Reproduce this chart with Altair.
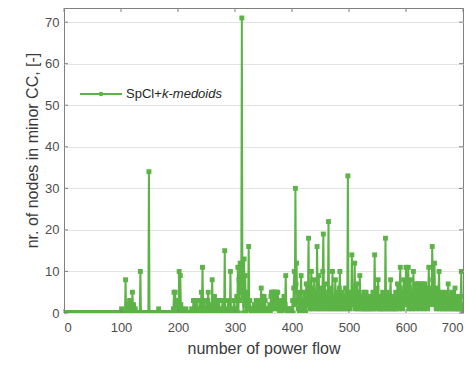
import altair as alt
import pandas as pd

GREEN = "#5cb346"
FONT = "Liberation Sans"

x_ticks = [0, 100, 200, 300, 400, 500, 600, 700]
y_ticks = [0, 10, 20, 30, 40, 50, 60, 70]

# nr. of nodes in minor CC for power flows 1..700
nodes = (
    [0, 0, 0, 0, 0, 0, 0, 0, 0, 0, 0, 0, 0, 0, 0, 0, 0, 0, 0, 0]
    + [0, 0, 0, 0, 0, 0, 0, 0, 0, 0, 0, 0, 0, 0, 0, 0, 0, 0, 0, 0]
    + [0, 0, 0, 0, 0, 0, 0, 0, 0, 0, 0, 0, 0, 0, 0, 0, 0, 0, 0, 0]
    + [0, 0, 0, 0, 0, 0, 0, 0, 0, 0, 0, 0, 0, 0, 0, 0, 0, 0, 0, 0]
    + [0, 0, 0, 0, 0, 0, 0, 0, 0, 0, 0, 0, 0, 0, 0, 0, 0, 0, 0, 0]
    + [1, 0, 0, 0, 0, 0, 0, 8, 0, 0, 0, 2, 0, 0, 3, 0, 3, 0, 0, 5]
    + [0, 2, 0, 0, 1, 0, 0, 0, 0, 0, 0, 0, 0, 10, 0, 0, 0, 0, 0, 0]
    + [0, 0, 0, 0, 0, 0, 0, 0, 34, 0, 0, 0, 0, 0, 0, 0, 0, 0, 0, 0]
    + [0, 0, 0, 0, 0, 1, 0, 0, 0, 0, 0, 0, 0, 0, 0, 0, 0, 0, 0, 0]
    + [0, 0, 0, 0, 0, 0, 0, 0, 0, 0, 0, 1, 5, 0, 5, 2, 0, 3, 0, 1]
    + [0, 10, 0, 9, 2, 0, 1, 0, 0, 0, 0, 0, 0, 1, 0, 0, 0, 0, 0, 0]
    + [0, 0, 0, 1, 0, 0, 3, 0, 3, 0, 3, 0, 3, 0, 1, 0, 0, 3, 0, 1]
    + [5, 0, 11, 2, 0, 1, 0, 1, 0, 3, 0, 3, 5, 1, 0, 2, 0, 0, 0, 8]
    + [0, 3, 0, 4, 0, 2, 0, 1, 0, 3, 0, 3, 0, 1, 0, 1, 0, 3, 0, 0]
    + [0, 15, 0, 1, 0, 0, 0, 3, 0, 0, 0, 10, 0, 1, 0, 0, 0, 3, 0, 1]
    + [0, 0, 4, 0, 11, 0, 8, 3, 12, 6, 5, 71, 7, 4, 0, 13, 2, 9, 0, 2]
    + [3, 5, 2, 16, 1, 3, 1, 0, 1, 0, 0, 1, 0, 2, 0, 1, 3, 0, 2, 0]
    + [1, 3, 0, 2, 1, 6, 0, 4, 1, 2, 4, 1, 3, 0, 1, 0, 0, 1, 0, 0]
    + [2, 0, 4, 5, 1, 5, 3, 5, 2, 5, 1, 5, 4, 2, 5, 1, 3, 0, 1, 0]
    + [2, 0, 1, 3, 2, 4, 1, 2, 9, 1, 0, 1, 0, 0, 0, 0, 1, 0, 1, 0]
    + [3, 0, 6, 10, 2, 30, 7, 12, 3, 5, 1, 3, 0, 4, 2, 9, 1, 3, 0, 2]
    + [5, 1, 3, 0, 7, 2, 4, 5, 18, 3, 1, 2, 6, 10, 1, 5, 3, 2, 8, 4]
    + [1, 3, 2, 16, 4, 1, 9, 2, 5, 3, 1, 6, 2, 10, 19, 4, 1, 7, 3, 2]
    + [5, 1, 3, 22, 2, 4, 1, 6, 3, 2, 10, 1, 4, 2, 3, 8, 1, 3, 5, 2]
    + [4, 1, 6, 10, 2, 3, 1, 5, 2, 4, 3, 1, 2, 6, 3, 1, 3, 33, 4, 2]
    + [5, 1, 3, 2, 14, 4, 2, 6, 3, 12, 1, 4, 2, 7, 3, 1, 5, 2, 9, 3]
    + [1, 4, 2, 3, 1, 5, 2, 1, 3, 5, 2, 1, 4, 2, 1, 3, 2, 4, 1, 3]
    + [2, 5, 1, 3, 14, 2, 4, 1, 6, 2, 8, 3, 1, 4, 2, 1, 3, 2, 5, 1]
    + [4, 2, 1, 18, 3, 2, 5, 1, 3, 2, 1, 4, 8, 2, 3, 1, 2, 4, 1, 3]
    + [2, 5, 1, 3, 7, 2, 4, 1, 6, 11, 3, 2, 5, 1, 4, 8, 2, 6, 3, 11]
    + [5, 2, 4, 11, 1, 6, 3, 8, 2, 5, 1, 3, 10, 2, 4, 7, 1, 5, 3, 7]
    + [2, 4, 7, 1, 5, 7, 3, 2, 6, 7, 1, 4, 7, 3, 5, 2, 6, 1, 4, 11]
    + [3, 5, 2, 6, 4, 16, 8, 3, 5, 12, 2, 4, 1, 6, 3, 2, 5, 10, 1, 3]
    + [4, 2, 5, 1, 3, 2, 4, 1, 3, 2, 5, 1, 3, 7, 2, 4, 1, 3, 2, 5]
    + [1, 3, 2, 4, 1, 6, 2, 3, 1, 4, 2, 1, 3, 2, 1, 4, 10, 1, 2, 0]
)
flows = list(range(1, len(nodes) + 1))

df = pd.DataFrame({"x": flows, "y": nodes})
xt = pd.DataFrame({"x": x_ticks})
yt = pd.DataFrame({"y": y_ticks})

W, H = 399, 305
xscale = alt.Scale(domain=[0, 700], nice=False, zero=False)
yscale = alt.Scale(domain=[0, 73.4], nice=False)

xaxis = alt.Axis(values=x_ticks, title="number of power flow", grid=False,
                 domain=False, ticks=False, labelPadding=8, titlePadding=6,
                 format="d", labelFlush=True)
yaxis = alt.Axis(values=y_ticks, title="nr. of nodes in minor CC, [-]",
                 grid=True, gridColor="#e3e3e3", gridWidth=1, domain=False,
                 ticks=False, labelPadding=5, titlePadding=4, format="d",
                 titleY=142)

base = alt.Chart(df)
line = base.mark_line(color=GREEN, strokeWidth=2, clip=True).encode(
    x=alt.X("x:Q", scale=xscale, axis=xaxis),
    y=alt.Y("y:Q", scale=yscale, axis=yaxis),
)
pts = base.mark_square(color=GREEN, size=24, opacity=1, clip=True).encode(
    x=alt.X("x:Q", scale=xscale),
    y=alt.Y("y:Q", scale=yscale),
)

tick_color = "#808080"
xt_bot = alt.Chart(xt).mark_rule(color=tick_color, strokeWidth=1).encode(
    x=alt.X("x:Q", scale=xscale), y=alt.value(H), y2=alt.value(H - 4))
xt_top = alt.Chart(xt).mark_rule(color=tick_color, strokeWidth=1).encode(
    x=alt.X("x:Q", scale=xscale), y=alt.value(0), y2=alt.value(4))
yt_left = alt.Chart(yt).mark_rule(color=tick_color, strokeWidth=1).encode(
    y=alt.Y("y:Q", scale=yscale), x=alt.value(0), x2=alt.value(4))
yt_right = alt.Chart(yt).mark_rule(color=tick_color, strokeWidth=1).encode(
    y=alt.Y("y:Q", scale=yscale), x=alt.value(W), x2=alt.value(W - 4))

legend_df = pd.DataFrame({"label": ["SpCl+"], "label2": ["k-medoids"]})
LY = 86
leg_line = alt.Chart(legend_df).mark_rule(color=GREEN, strokeWidth=2).encode(
    x=alt.value(16), x2=alt.value(58), y=alt.value(LY))
leg_pt = alt.Chart(legend_df).mark_circle(color=GREEN, size=22, opacity=1).encode(
    x=alt.value(37), y=alt.value(LY))
leg_t1 = alt.Chart(legend_df).mark_text(
    align="left", baseline="middle", font=FONT, fontSize=13, color="#262626"
).encode(x=alt.value(62), y=alt.value(LY), text="label:N")
leg_t2 = alt.Chart(legend_df).mark_text(
    align="left", baseline="middle", font=FONT, fontSize=13, fontStyle="italic",
    color="#262626"
).encode(x=alt.value(98), y=alt.value(LY), text="label2:N")

chart = alt.layer(
    line, pts, xt_bot, xt_top, yt_left, yt_right,
    leg_line, leg_pt, leg_t1, leg_t2
).properties(
    width=W, height=H,
    autosize=alt.AutoSizeParams(type="none"),
    padding={"left": 56, "top": 0, "right": 2, "bottom": 50},
).configure_view(
    stroke="#808080", strokeWidth=1
).configure_axis(
    labelFont=FONT, labelFontSize=13, labelColor="#4d4d4d",
    titleFont=FONT, titleFontSize=16, titleColor="#3a3a3a", titleFontWeight="normal",
)

chart.save("out.html", embed_options={"renderer": "svg", "actions": False})
